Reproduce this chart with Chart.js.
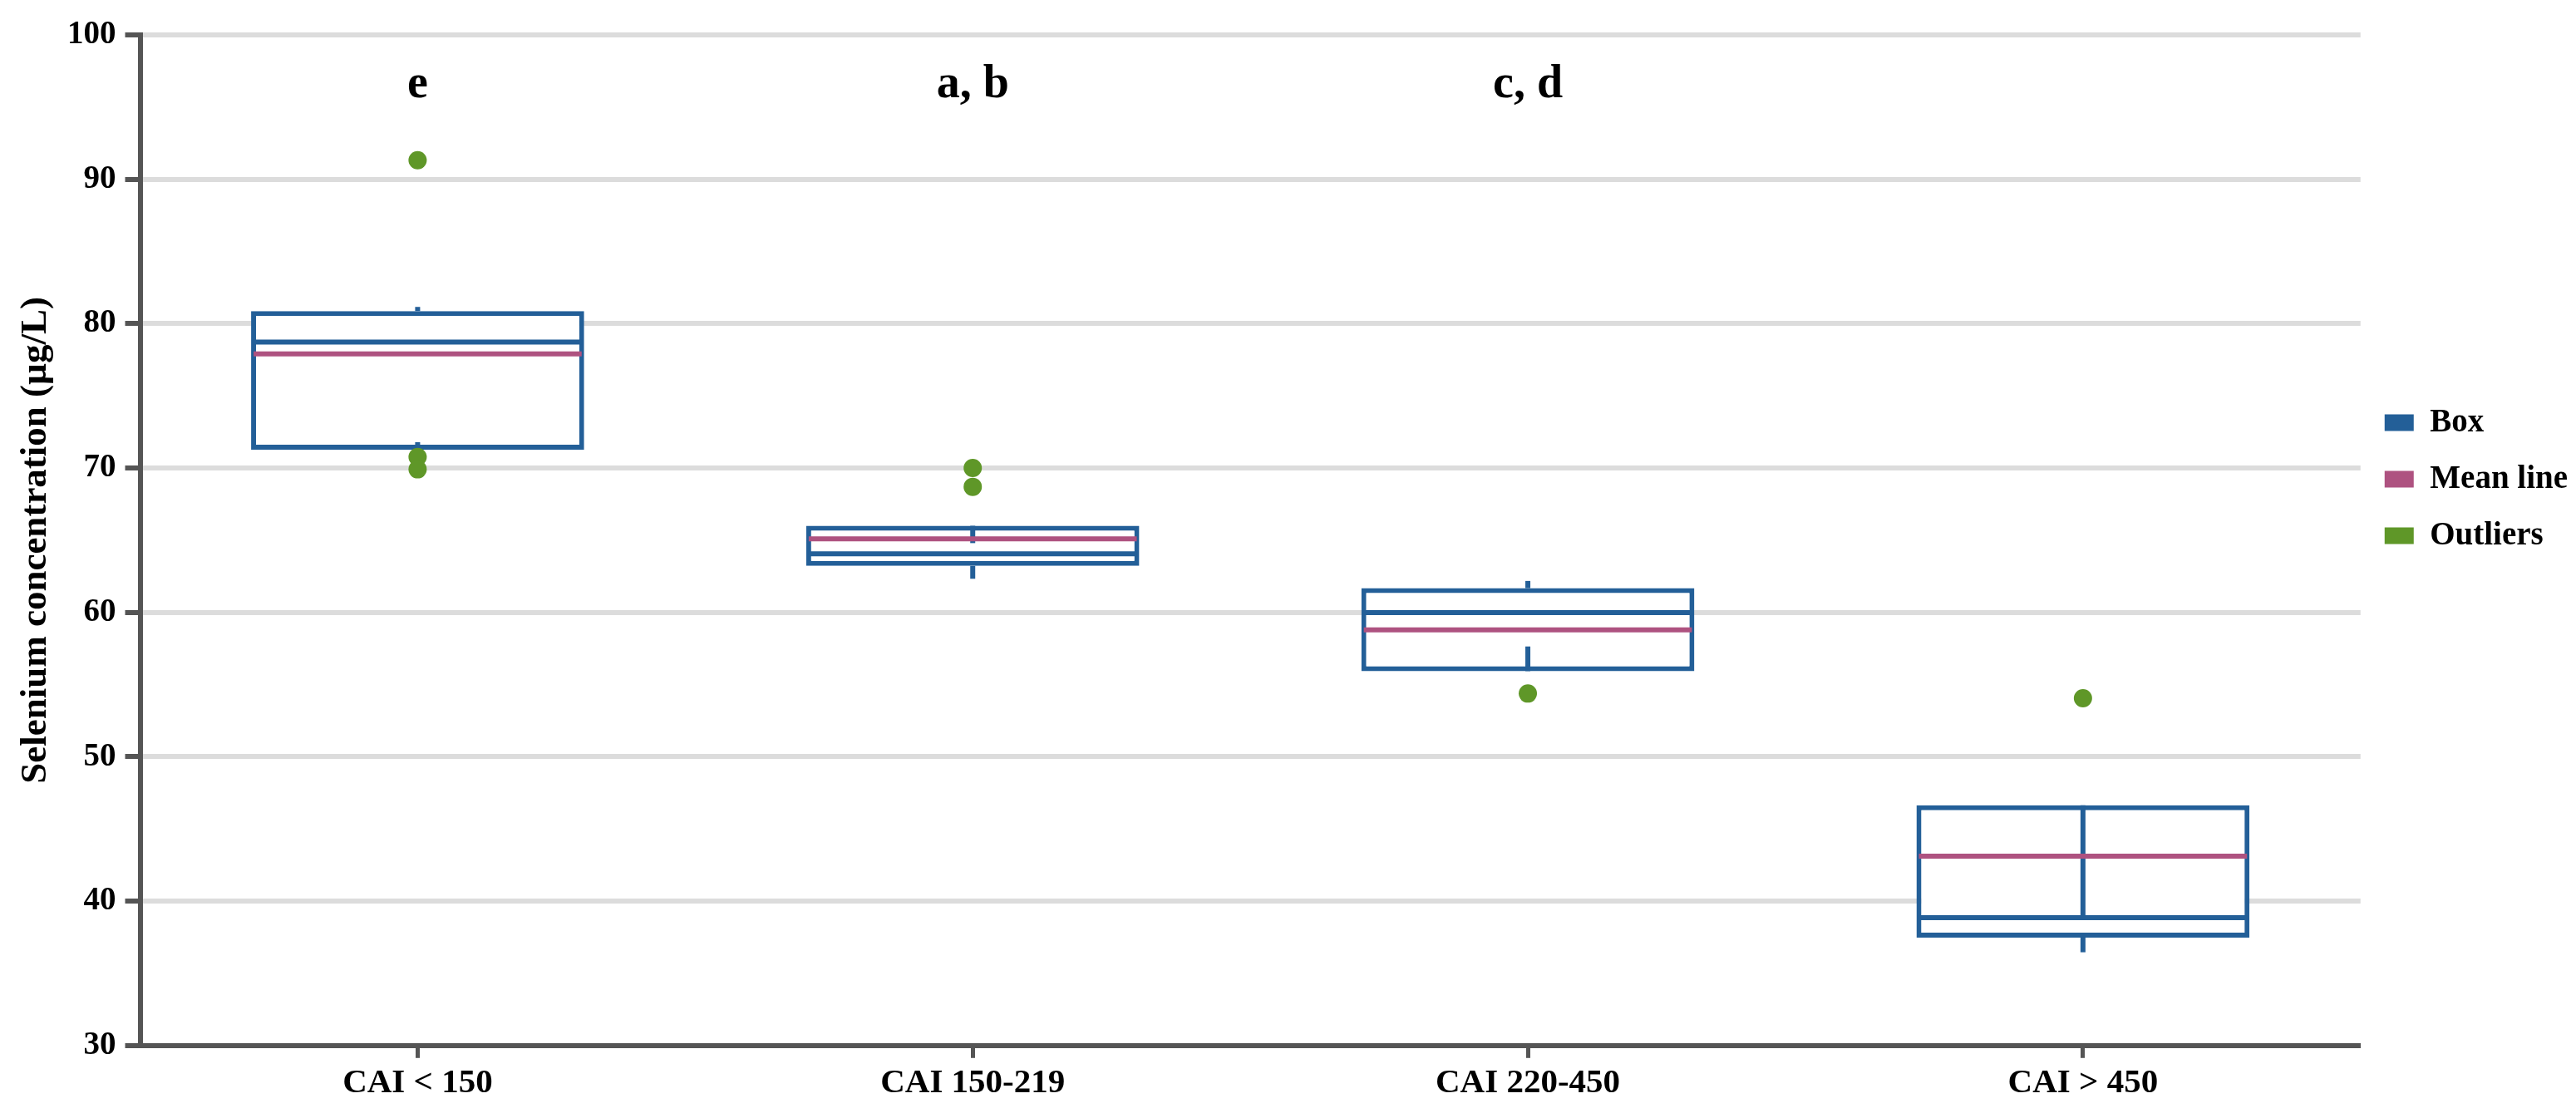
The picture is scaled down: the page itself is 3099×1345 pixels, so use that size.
<!DOCTYPE html>
<html>
<head>
<meta charset="utf-8">
<script src="https://cdn.jsdelivr.net/npm/chart.js@4.4.1/dist/chart.umd.min.js"></script>
<style>
  html, body { margin: 0; padding: 0; background: #fff; }
</style>
</head>
<body>
<canvas id="c" width="3099" height="1345"></canvas>
<script>
// Selenium concentration by CAI group (box = Q1..Q3)
const categories = ['CAI < 150', 'CAI 150-219', 'CAI 220-450', 'CAI > 450'];
const q1 = [71.27, 63.22, 55.93, 37.48];
const q3 = [80.87, 66.0, 61.68, 46.64];
const median = [78.72, 64.06, 59.98, 38.86];
const mean = [77.9, 65.1, 58.79, 43.11];
const whiskerMax = [81.16, 64.8, 62.18, 38.86];
const whiskerMin = [71.79, 62.33, 57.64, 36.46];
const outlierCat = ['CAI < 150', 'CAI < 150', 'CAI < 150', 'CAI 150-219', 'CAI 150-219', 'CAI 220-450', 'CAI > 450'];
const outlierVal = [91.32, 70.77, 69.91, 70.0, 68.7, 54.38, 54.05];
const groupLetters = ['e', 'a, b', 'c, d', ''];
const letterLevel = 95.7;
const yTicks = [30, 40, 50, 60, 70, 80, 90, 100];
const legendNames = ['Box', 'Mean line', 'Outliers'];

const BLUE = '#235f98';
const PINK = '#ae5280';
const GREEN = '#5f9728';
const AXIS = '#555555';
const GRID = '#dcdcdc';
const FONT = "'Liberation Serif', 'Times New Roman', serif";

Chart.defaults.font.family = FONT;
Chart.defaults.font.weight = 'bold';
Chart.defaults.color = '#000';

function seg(ctx, x1, y1, x2, y2) {
    ctx.beginPath();
    ctx.moveTo(x1, y1);
    ctx.lineTo(x2, y2);
    ctx.stroke();
}

// whiskers, median and mean lines go on top of the box outlines
const boxExtras = {
    id: 'boxExtras',
    afterDatasetDraw(chart, args) {
        if (args.index !== 0) return;
        const { ctx } = chart;
        const y = chart.scales.y;
        ctx.save();
        ctx.lineWidth = 6;
        ctx.lineCap = 'butt';
        args.meta.data.forEach((bar, i) => {
            const x = bar.x;
            const half = bar.width / 2 - 3;
            ctx.strokeStyle = BLUE;
            seg(ctx, x, y.getPixelForValue(q3[i]), x, y.getPixelForValue(whiskerMax[i]));
            seg(ctx, x, y.getPixelForValue(q1[i]), x, y.getPixelForValue(whiskerMin[i]));
            const ym = y.getPixelForValue(median[i]);
            seg(ctx, x - half, ym, x + half, ym);
            ctx.strokeStyle = PINK;
            const ya = y.getPixelForValue(mean[i]);
            seg(ctx, x - half, ya, x + half, ya);
        });
        ctx.restore();
    },
    afterDraw(chart) {
        const { ctx } = chart;
        const x = chart.scales.x;
        const y = chart.scales.y;
        ctx.save();
        ctx.font = 'bold 56px ' + FONT;
        ctx.fillStyle = '#000';
        ctx.textAlign = 'center';
        ctx.textBaseline = 'alphabetic';
        groupLetters.forEach((t, i) => {
            if (!t) return;
            ctx.fillText(t, x.getPixelForValue(i), y.getPixelForValue(letterLevel));
        });
        ctx.restore();
    }
};

new Chart(document.getElementById('c'), {
    type: 'bar',
    data: {
        labels: categories,
        datasets: [
            {
                label: 'Box',
                data: categories.map((_, i) => [q1[i], q3[i]]),
                backgroundColor: '#ffffff',
                borderColor: BLUE,
                borderWidth: 6,
                borderSkipped: false,
                barPercentage: 0.6,
                categoryPercentage: 1,
                order: 0,
            },
            {
                type: 'line',
                label: 'Outliers',
                data: outlierCat.map((c, k) => ({ x: c, y: outlierVal[k] })),
                showLine: false,
                pointRadius: 11,
                pointBackgroundColor: GREEN,
                pointBorderWidth: 0,
                order: -1,
            },
        ],
    },
    options: {
        responsive: false,
        devicePixelRatio: 1,
        animation: false,
        layout: { padding: { top: 42, bottom: 11, left: 0, right: 0 } },
        plugins: {
            tooltip: { enabled: false },
            legend: {
                position: 'right',
                align: 'start',
                title: { display: true, text: ' ', font: { size: 10 }, padding: { top: 406, bottom: 0 } },
                labels: {
                    boxWidth: 35,
                    boxHeight: 20,
                    padding: 29,
                    color: '#000',
                    font: { size: 39, weight: 'bold' },
                    generateLabels: () => legendNames.map((t, i) => ({
                        text: t,
                        fillStyle: [BLUE, PINK, GREEN][i],
                        strokeStyle: [BLUE, PINK, GREEN][i],
                        lineWidth: 0,
                        hidden: false,
                        datasetIndex: i,
                    })),
                },
            },
        },
        scales: {
            x: {
                type: 'category',
                offset: true,
                grid: {
                    display: true,
                    drawOnChartArea: false,
                    offset: false,
                    tickColor: AXIS,
                    tickLength: 15,
                    tickWidth: 5,
                },
                border: { display: true, color: AXIS, width: 6 },
                ticks: { padding: 6, color: '#000', font: { size: 41, weight: 'bold' } },
            },
            y: {
                type: 'linear',
                min: 30,
                max: 100,
                afterBuildTicks: axis => { axis.ticks = yTicks.map(v => ({ value: v })); },
                grid: {
                    color: GRID,
                    lineWidth: 6,
                    tickColor: AXIS,
                    tickLength: 18,
                    tickWidth: 6,
                },
                border: { display: true, color: AXIS, width: 6 },
                ticks: { padding: 11, color: '#000', font: { size: 39, weight: 'bold' } },
                title: {
                    display: true,
                    text: 'Selenium concentration (µg/L)',
                    color: '#000',
                    font: { size: 45, weight: 'bold' },
                    padding: { top: 16, bottom: 0 },
                },
            },
        },
    },
    plugins: [boxExtras],
});
</script>
</body>
</html>
